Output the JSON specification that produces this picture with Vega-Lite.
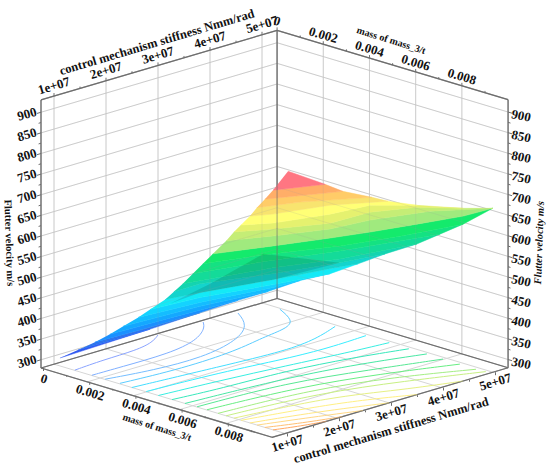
{"$schema":"https://vega.github.io/schema/vega-lite/v6.json","width":550,"height":469,"padding":0,"autosize":{"type":"fit","contains":"padding"},"background":"white","config":{"view":{"stroke":null}},
"datasets":{
"surface":[
{"level":300,"seq":1,"mass":0.00028,"stiffness":0.99e7},
{"level":330,"seq":1,"mass":0.00099,"stiffness":1.02e7},{"level":330,"seq":2,"mass":0.00102,"stiffness":1.82e7},{"level":330,"seq":3,"mass":0.00101,"stiffness":2.4e7},
{"level":360,"seq":1,"mass":0.00168,"stiffness":1.04e7},{"level":360,"seq":2,"mass":0.00177,"stiffness":2.06e7},{"level":360,"seq":3,"mass":0.00179,"stiffness":3.01e7},
{"level":390,"seq":1,"mass":0.00233,"stiffness":1.04e7},{"level":390,"seq":2,"mass":0.00245,"stiffness":2.33e7},{"level":390,"seq":3,"mass":0.0026,"stiffness":3.38e7},
{"level":420,"seq":1,"mass":0.00293,"stiffness":1.03e7},{"level":420,"seq":2,"mass":0.00313,"stiffness":2.42e7},{"level":420,"seq":3,"mass":0.0035,"stiffness":3.56e7},
{"level":450,"seq":1,"mass":0.00351,"stiffness":1.06e7},{"level":450,"seq":2,"mass":0.00374,"stiffness":2.14e7},{"level":450,"seq":3,"mass":0.00422,"stiffness":3.34e7},{"level":450,"seq":4,"mass":0.00429,"stiffness":3.83e7},
{"level":480,"seq":1,"mass":0.00409,"stiffness":1.03e7},{"level":480,"seq":2,"mass":0.00429,"stiffness":1.9e7},{"level":480,"seq":3,"mass":0.00491,"stiffness":3.03e7},{"level":480,"seq":4,"mass":0.00534,"stiffness":3.94e7},
{"level":510,"seq":1,"mass":0.00459,"stiffness":1.1e7},{"level":510,"seq":2,"mass":0.00483,"stiffness":1.66e7},{"level":510,"seq":3,"mass":0.00545,"stiffness":2.79e7},{"level":510,"seq":4,"mass":0.00595,"stiffness":3.86e7},{"level":510,"seq":5,"mass":0.00612,"stiffness":4.13e7},
{"level":540,"seq":1,"mass":0.0051,"stiffness":1.04e7},{"level":540,"seq":2,"mass":0.00508,"stiffness":1.55e7},{"level":540,"seq":3,"mass":0.00592,"stiffness":2.58e7},{"level":540,"seq":4,"mass":0.00656,"stiffness":3.58e7},{"level":540,"seq":5,"mass":0.00688,"stiffness":4.31e7},
{"level":570,"seq":1,"mass":0.00562,"stiffness":0.98e7},{"level":570,"seq":2,"mass":0.00639,"stiffness":2.37e7},{"level":570,"seq":3,"mass":0.00718,"stiffness":3.31e7},{"level":570,"seq":4,"mass":0.00774,"stiffness":4.54e7},
{"level":600,"seq":1,"mass":0.00601,"stiffness":1e7},{"level":600,"seq":2,"mass":0.00664,"stiffness":2.07e7},{"level":600,"seq":3,"mass":0.0075,"stiffness":3.17e7},{"level":600,"seq":4,"mass":0.00842,"stiffness":4.68e7},
{"level":630,"seq":1,"mass":0.0064,"stiffness":1.02e7},{"level":630,"seq":2,"mass":0.00704,"stiffness":1.89e7},{"level":630,"seq":3,"mass":0.00805,"stiffness":2.93e7},{"level":630,"seq":4,"mass":0.00861,"stiffness":3.83e7},{"level":630,"seq":5,"mass":0.00909,"stiffness":4.83e7},
{"level":660,"seq":1,"mass":0.00679,"stiffness":1.04e7},{"level":660,"seq":2,"mass":0.0075,"stiffness":1.88e7},{"level":660,"seq":3,"mass":0.00815,"stiffness":2.69e7},{"level":660,"seq":4,"mass":0.00857,"stiffness":3.27e7},{"level":660,"seq":5,"mass":0.009,"stiffness":3.98e7},{"level":660,"seq":6,"mass":0.00941,"stiffness":4.69e7},{"level":660,"seq":7,"mass":0.00947,"stiffness":5.23e7},
{"level":690,"seq":1,"mass":0.00703,"stiffness":1.19e7},{"level":690,"seq":2,"mass":0.00768,"stiffness":1.8e7},{"level":690,"seq":3,"mass":0.00839,"stiffness":2.58e7},{"level":690,"seq":4,"mass":0.0086,"stiffness":3.26e7},{"level":690,"seq":5,"mass":0.00924,"stiffness":4.13e7},{"level":690,"seq":6,"mass":0.01038,"stiffness":4.83e7},
{"level":720,"seq":1,"mass":0.00745,"stiffness":1.15e7},{"level":720,"seq":2,"mass":0.00807,"stiffness":1.63e7},{"level":720,"seq":3,"mass":0.00887,"stiffness":2.37e7},{"level":720,"seq":4,"mass":0.00892,"stiffness":3.11e7},{"level":720,"seq":5,"mass":0.00957,"stiffness":3.73e7},{"level":720,"seq":6,"mass":0.01064,"stiffness":4.14e7},
{"level":750,"seq":1,"mass":0.008,"stiffness":1.04e7},{"level":750,"seq":2,"mass":0.00854,"stiffness":1.42e7},{"level":750,"seq":3,"mass":0.00911,"stiffness":2.26e7},{"level":750,"seq":4,"mass":0.00932,"stiffness":2.94e7},{"level":750,"seq":5,"mass":0.01034,"stiffness":3.39e7},
{"level":780,"seq":1,"mass":0.00844,"stiffness":1.02e7},{"level":780,"seq":2,"mass":0.00879,"stiffness":1.31e7},{"level":780,"seq":3,"mass":0.00936,"stiffness":2.15e7},{"level":780,"seq":4,"mass":0.01032,"stiffness":2.84e7},
{"level":810,"seq":1,"mass":0.00887,"stiffness":0.96e7},{"level":810,"seq":2,"mass":0.0094,"stiffness":1.56e7},{"level":810,"seq":3,"mass":0.01059,"stiffness":2.41e7},
{"level":840,"seq":1,"mass":0.00933,"stiffness":0.91e7},{"level":840,"seq":2,"mass":0.01043,"stiffness":1.92e7},
{"level":870,"seq":1,"mass":0.00975,"stiffness":0.88e7},{"level":870,"seq":2,"mass":0.01044,"stiffness":1.575e7},
{"level":900,"seq":1,"mass":0.00959,"stiffness":1.24e7}],
"fold":[{"seq":1,"mass":0.00499,"stiffness":1.02e7,"velocity":510},{"seq":2,"mass":0.0062,"stiffness":1.25e7,"velocity":570},{"seq":3,"mass":0.00697,"stiffness":1.93e7,"velocity":630},{"seq":4,"mass":0.00656,"stiffness":3.58e7,"velocity":540},{"seq":5,"mass":0.00545,"stiffness":2.79e7,"velocity":510},{"seq":6,"mass":0.00483,"stiffness":1.66e7,"velocity":510}],
"contours":[
{"level":330,"seq":1,"mass":0.00088,"stiffness":1.01e7},{"level":330,"seq":2,"mass":0.00075,"stiffness":1.61e7},{"level":330,"seq":3,"mass":0.00075,"stiffness":2.26e7},{"level":330,"seq":4,"mass":0.00051,"stiffness":2.67e7},{"level":330,"seq":5,"mass":0.00011,"stiffness":2.95e7},
{"level":360,"seq":1,"mass":0.00162,"stiffness":1.01e7},{"level":360,"seq":2,"mass":0.00164,"stiffness":1.54e7},{"level":360,"seq":3,"mass":0.00169,"stiffness":2.48e7},{"level":360,"seq":4,"mass":0.00132,"stiffness":3.16e7},{"level":360,"seq":5,"mass":0.00061,"stiffness":3.63e7},{"level":360,"seq":6,"mass":0.00013,"stiffness":3.81e7},
{"level":390,"seq":1,"mass":0.00219,"stiffness":1.01e7},{"level":390,"seq":2,"mass":0.00257,"stiffness":1.76e7},{"level":390,"seq":3,"mass":0.0027,"stiffness":2.67e7},{"level":390,"seq":4,"mass":0.00219,"stiffness":3.55e7},{"level":390,"seq":5,"mass":0.00132,"stiffness":4.14e7},{"level":390,"seq":6,"mass":0.00022,"stiffness":4.44e7},
{"level":420,"seq":1,"mass":0.00281,"stiffness":1.02e7},{"level":420,"seq":2,"mass":0.00307,"stiffness":2.12e7},{"level":420,"seq":3,"mass":0.00292,"stiffness":3.22e7},{"level":420,"seq":4,"mass":0.00253,"stiffness":3.89e7},{"level":420,"seq":5,"mass":0.00239,"stiffness":4.42e7},{"level":420,"seq":6,"mass":0.00193,"stiffness":4.74e7},{"level":420,"seq":7,"mass":0.00084,"stiffness":4.97e7},
{"level":450,"seq":1,"mass":0.00337,"stiffness":1e7},{"level":450,"seq":2,"mass":0.00373,"stiffness":2.54e7},{"level":450,"seq":3,"mass":0.004,"stiffness":3.7e7},{"level":450,"seq":4,"mass":0.00377,"stiffness":4.38e7},{"level":450,"seq":5,"mass":0.00328,"stiffness":4.95e7},
{"level":480,"seq":1,"mass":0.00397,"stiffness":1.01e7},{"level":480,"seq":2,"mass":0.00417,"stiffness":2.34e7},{"level":480,"seq":3,"mass":0.00459,"stiffness":3.44e7},{"level":480,"seq":4,"mass":0.00471,"stiffness":4.22e7},{"level":480,"seq":5,"mass":0.00461,"stiffness":4.95e7},
{"level":510,"seq":1,"mass":0.00452,"stiffness":1e7},{"level":510,"seq":2,"mass":0.00476,"stiffness":2.08e7},{"level":510,"seq":3,"mass":0.0051,"stiffness":3.21e7},{"level":510,"seq":4,"mass":0.00545,"stiffness":4.22e7},{"level":510,"seq":5,"mass":0.00562,"stiffness":4.95e7},
{"level":540,"seq":1,"mass":0.00511,"stiffness":1e7},{"level":540,"seq":2,"mass":0.00535,"stiffness":1.82e7},{"level":540,"seq":3,"mass":0.00547,"stiffness":3.05e7},{"level":540,"seq":4,"mass":0.00594,"stiffness":4.11e7},{"level":540,"seq":5,"mass":0.00649,"stiffness":4.94e7},
{"level":570,"seq":1,"mass":0.00567,"stiffness":1e7},{"level":570,"seq":2,"mass":0.00599,"stiffness":2.82e7},{"level":570,"seq":3,"mass":0.00654,"stiffness":3.98e7},{"level":570,"seq":4,"mass":0.00725,"stiffness":4.95e7},
{"level":600,"seq":1,"mass":0.00617,"stiffness":1.01e7},{"level":600,"seq":2,"mass":0.00635,"stiffness":2.66e7},{"level":600,"seq":3,"mass":0.00719,"stiffness":3.88e7},{"level":600,"seq":4,"mass":0.00797,"stiffness":4.94e7},
{"level":630,"seq":1,"mass":0.0066,"stiffness":1.01e7},{"level":630,"seq":2,"mass":0.00693,"stiffness":2.65e7},{"level":630,"seq":3,"mass":0.00771,"stiffness":3.85e7},{"level":630,"seq":4,"mass":0.0087,"stiffness":4.94e7},
{"level":660,"seq":1,"mass":0.0071,"stiffness":1e7},{"level":660,"seq":2,"mass":0.00737,"stiffness":2.65e7},{"level":660,"seq":3,"mass":0.00825,"stiffness":3.89e7},{"level":660,"seq":4,"mass":0.00942,"stiffness":4.93e7},
{"level":690,"seq":1,"mass":0.00745,"stiffness":1e7},{"level":690,"seq":2,"mass":0.0078,"stiffness":2.65e7},{"level":690,"seq":3,"mass":0.00876,"stiffness":3.86e7},{"level":690,"seq":4,"mass":0.0098,"stiffness":4.95e7},
{"level":720,"seq":1,"mass":0.00779,"stiffness":1e7},{"level":720,"seq":2,"mass":0.00831,"stiffness":2.62e7},{"level":720,"seq":3,"mass":0.00931,"stiffness":3.52e7},{"level":720,"seq":4,"mass":0.01,"stiffness":4.42e7},
{"level":750,"seq":1,"mass":0.0081,"stiffness":1e7},{"level":750,"seq":2,"mass":0.0089,"stiffness":2.55e7},{"level":750,"seq":3,"mass":0.01,"stiffness":3.54e7},
{"level":780,"seq":1,"mass":0.00848,"stiffness":1e7},{"level":780,"seq":2,"mass":0.0091,"stiffness":2e7},{"level":780,"seq":3,"mass":0.01,"stiffness":3e7},
{"level":810,"seq":1,"mass":0.00879,"stiffness":1e7},{"level":810,"seq":2,"mass":0.0094,"stiffness":1.8e7},{"level":810,"seq":3,"mass":0.01,"stiffness":2.5e7},
{"level":840,"seq":1,"mass":0.00913,"stiffness":1e7},{"level":840,"seq":2,"mass":0.0096,"stiffness":1.5e7},{"level":840,"seq":3,"mass":0.01,"stiffness":2.1e7},
{"level":870,"seq":1,"mass":0.00948,"stiffness":1e7},{"level":870,"seq":2,"mass":0.0098,"stiffness":1.4e7},{"level":870,"seq":3,"mass":0.01,"stiffness":1.8e7}],
"grid":[
{"mass":0,"stiffness":7.5e6,"stiffness2":5.29e7,"velocity":300},{"mass":0,"stiffness":7.5e6,"stiffness2":5.29e7,"velocity":350},{"mass":0,"stiffness":7.5e6,"stiffness2":5.29e7,"velocity":400},{"mass":0,"stiffness":7.5e6,"stiffness2":5.29e7,"velocity":450},{"mass":0,"stiffness":7.5e6,"stiffness2":5.29e7,"velocity":500},{"mass":0,"stiffness":7.5e6,"stiffness2":5.29e7,"velocity":550},{"mass":0,"stiffness":7.5e6,"stiffness2":5.29e7,"velocity":600},{"mass":0,"stiffness":7.5e6,"stiffness2":5.29e7,"velocity":650},{"mass":0,"stiffness":7.5e6,"stiffness2":5.29e7,"velocity":700},{"mass":0,"stiffness":7.5e6,"stiffness2":5.29e7,"velocity":750},{"mass":0,"stiffness":7.5e6,"stiffness2":5.29e7,"velocity":800},{"mass":0,"stiffness":7.5e6,"stiffness2":5.29e7,"velocity":850},{"mass":0,"stiffness":7.5e6,"stiffness2":5.29e7,"velocity":900},
{"mass":0,"mass2":0.01,"stiffness":5.29e7,"velocity":300},{"mass":0,"mass2":0.01,"stiffness":5.29e7,"velocity":350},{"mass":0,"mass2":0.01,"stiffness":5.29e7,"velocity":400},{"mass":0,"mass2":0.01,"stiffness":5.29e7,"velocity":450},{"mass":0,"mass2":0.01,"stiffness":5.29e7,"velocity":500},{"mass":0,"mass2":0.01,"stiffness":5.29e7,"velocity":550},{"mass":0,"mass2":0.01,"stiffness":5.29e7,"velocity":600},{"mass":0,"mass2":0.01,"stiffness":5.29e7,"velocity":650},{"mass":0,"mass2":0.01,"stiffness":5.29e7,"velocity":700},{"mass":0,"mass2":0.01,"stiffness":5.29e7,"velocity":750},{"mass":0,"mass2":0.01,"stiffness":5.29e7,"velocity":800},{"mass":0,"mass2":0.01,"stiffness":5.29e7,"velocity":850},{"mass":0,"mass2":0.01,"stiffness":5.29e7,"velocity":900},
{"mass":0,"stiffness":1e7,"velocity":280,"velocity2":930},{"mass":0,"stiffness":2e7,"velocity":280,"velocity2":930},{"mass":0,"stiffness":3e7,"velocity":280,"velocity2":930},{"mass":0,"stiffness":4e7,"velocity":280,"velocity2":930},{"mass":0,"stiffness":5e7,"velocity":280,"velocity2":930},
{"mass":0.002,"stiffness":5.29e7,"velocity":280,"velocity2":930},{"mass":0.004,"stiffness":5.29e7,"velocity":280,"velocity2":930},{"mass":0.006,"stiffness":5.29e7,"velocity":280,"velocity2":930},{"mass":0.008,"stiffness":5.29e7,"velocity":280,"velocity2":930},
{"mass":0,"mass2":0.01,"stiffness":1e7,"velocity":280},{"mass":0,"mass2":0.01,"stiffness":2e7,"velocity":280},{"mass":0,"mass2":0.01,"stiffness":3e7,"velocity":280},{"mass":0,"mass2":0.01,"stiffness":4e7,"velocity":280},{"mass":0,"mass2":0.01,"stiffness":5e7,"velocity":280},
{"mass":0.002,"stiffness":7.5e6,"stiffness2":5.29e7,"velocity":280},{"mass":0.004,"stiffness":7.5e6,"stiffness2":5.29e7,"velocity":280},{"mass":0.006,"stiffness":7.5e6,"stiffness2":5.29e7,"velocity":280},{"mass":0.008,"stiffness":7.5e6,"stiffness2":5.29e7,"velocity":280}],
"frame":[
{"mass":0,"stiffness":7.5e6,"velocity":280,"velocity2":930},{"mass":0,"stiffness":5.29e7,"velocity":280,"velocity2":930},{"mass":0.01,"stiffness":5.29e7,"velocity":280,"velocity2":930},
{"mass":0,"stiffness":7.5e6,"stiffness2":5.29e7,"velocity":930},{"mass":0,"mass2":0.01,"stiffness":5.29e7,"velocity":930},
{"mass":0,"stiffness":7.5e6,"stiffness2":5.29e7,"velocity":280},{"mass":0,"mass2":0.01,"stiffness":5.29e7,"velocity":280},{"mass":0.01,"stiffness":7.5e6,"stiffness2":5.29e7,"velocity":280},{"mass":0,"mass2":0.01,"stiffness":7.5e6,"velocity":280}],
"ticks":[
{"side":"st","stiffness":1e7,"label":"1e+07"},{"side":"st","stiffness":1.5e7},{"side":"st","stiffness":2e7,"label":"2e+07"},{"side":"st","stiffness":2.5e7},{"side":"st","stiffness":3e7,"label":"3e+07"},{"side":"st","stiffness":3.5e7},{"side":"st","stiffness":4e7,"label":"4e+07"},{"side":"st","stiffness":4.5e7},{"side":"st","stiffness":5e7,"label":"5e+07"},
{"side":"sb","stiffness":1e7,"label":"1e+07"},{"side":"sb","stiffness":1.5e7},{"side":"sb","stiffness":2e7,"label":"2e+07"},{"side":"sb","stiffness":2.5e7},{"side":"sb","stiffness":3e7,"label":"3e+07"},{"side":"sb","stiffness":3.5e7},{"side":"sb","stiffness":4e7,"label":"4e+07"},{"side":"sb","stiffness":4.5e7},{"side":"sb","stiffness":5e7,"label":"5e+07"},
{"side":"mt","mass":0,"label":"0"},{"side":"mt","mass":0.001},{"side":"mt","mass":0.002,"label":"0.002"},{"side":"mt","mass":0.003},{"side":"mt","mass":0.004,"label":"0.004"},{"side":"mt","mass":0.005},{"side":"mt","mass":0.006,"label":"0.006"},{"side":"mt","mass":0.007},{"side":"mt","mass":0.008,"label":"0.008"},{"side":"mt","mass":0.009},
{"side":"mb","mass":0,"label":"0"},{"side":"mb","mass":0.001},{"side":"mb","mass":0.002,"label":"0.002"},{"side":"mb","mass":0.003},{"side":"mb","mass":0.004,"label":"0.004"},{"side":"mb","mass":0.005},{"side":"mb","mass":0.006,"label":"0.006"},{"side":"mb","mass":0.007},{"side":"mb","mass":0.008,"label":"0.008"},{"side":"mb","mass":0.009},
{"side":"zl","velocity":300,"label":"300"},{"side":"zl","velocity":325},{"side":"zl","velocity":350,"label":"350"},{"side":"zl","velocity":375},{"side":"zl","velocity":400,"label":"400"},{"side":"zl","velocity":425},{"side":"zl","velocity":450,"label":"450"},{"side":"zl","velocity":475},{"side":"zl","velocity":500,"label":"500"},{"side":"zl","velocity":525},{"side":"zl","velocity":550,"label":"550"},{"side":"zl","velocity":575},{"side":"zl","velocity":600,"label":"600"},{"side":"zl","velocity":625},{"side":"zl","velocity":650,"label":"650"},{"side":"zl","velocity":675},{"side":"zl","velocity":700,"label":"700"},{"side":"zl","velocity":725},{"side":"zl","velocity":750,"label":"750"},{"side":"zl","velocity":775},{"side":"zl","velocity":800,"label":"800"},{"side":"zl","velocity":825},{"side":"zl","velocity":850,"label":"850"},{"side":"zl","velocity":875},{"side":"zl","velocity":900,"label":"900"},
{"side":"zr","velocity":300,"label":"300"},{"side":"zr","velocity":325},{"side":"zr","velocity":350,"label":"350"},{"side":"zr","velocity":375},{"side":"zr","velocity":400,"label":"400"},{"side":"zr","velocity":425},{"side":"zr","velocity":450,"label":"450"},{"side":"zr","velocity":475},{"side":"zr","velocity":500,"label":"500"},{"side":"zr","velocity":525},{"side":"zr","velocity":550,"label":"550"},{"side":"zr","velocity":575},{"side":"zr","velocity":600,"label":"600"},{"side":"zr","velocity":625},{"side":"zr","velocity":650,"label":"650"},{"side":"zr","velocity":675},{"side":"zr","velocity":700,"label":"700"},{"side":"zr","velocity":725},{"side":"zr","velocity":750,"label":"750"},{"side":"zr","velocity":775},{"side":"zr","velocity":800,"label":"800"},{"side":"zr","velocity":825},{"side":"zr","velocity":850,"label":"850"},{"side":"zr","velocity":875},{"side":"zr","velocity":900,"label":"900"}],
"titles":[
{"side":"st","label":"control mechanism stiffness Nmm/rad","mass":0,"stiffness":2.98e7,"velocity":987},
{"side":"sb","label":"control mechanism stiffness Nmm/rad","mass":0.01,"stiffness":3.04e7,"velocity":212},
{"side":"mt","label":"mass of mass_3/t","mass":0.00494,"stiffness":5.29e7,"velocity":988},
{"side":"mb","label":"mass of mass_3/t","mass":0.00502,"stiffness":7.5e6,"velocity":220},
{"side":"vl","label":"Flutter velocity m/s","mass":-0.00139,"stiffness":7.5e6,"velocity":560},
{"side":"vr","label":"Flutter velocity m/s","mass":0.01136,"stiffness":5.29e7,"velocity":602}]
},
"encoding":{
"x":{"field":"px","type":"quantitative","scale":{"domain":[0,550],"nice":false,"zero":false},"axis":null},
"y":{"field":"py","type":"quantitative","scale":{"domain":[469,0],"nice":false,"zero":false},"axis":null}},
"layer":[
{"data":{"name":"grid"},"mark":{"type":"rule","color":"#d6d6d6","strokeWidth":1},
"transform":[
{"calculate":"41+(datum.stiffness/1e7-0.75)*52+datum.mass*23100","as":"px"},
{"calculate":"368+0.3*datum.mass*23100-0.2945*(datum.stiffness/1e7-0.75)*52-(datum.velocity-280)*0.4125","as":"py"},
{"calculate":"isValid(datum.mass2)?datum.mass2:datum.mass","as":"m2"},{"calculate":"isValid(datum.stiffness2)?datum.stiffness2:datum.stiffness","as":"s2"},{"calculate":"isValid(datum.velocity2)?datum.velocity2:datum.velocity","as":"v2"},
{"calculate":"41+(datum.s2/1e7-0.75)*52+datum.m2*23100","as":"px2"},
{"calculate":"368+0.3*datum.m2*23100-0.2945*(datum.s2/1e7-0.75)*52-(datum.v2-280)*0.4125","as":"py2"}],
"encoding":{"x2":{"field":"px2"},"y2":{"field":"py2"}}},
{"data":{"name":"frame"},"mark":{"type":"rule","color":"#6e6e6e","strokeWidth":1.2},
"transform":[
{"calculate":"41+(datum.stiffness/1e7-0.75)*52+datum.mass*23100","as":"px"},
{"calculate":"368+0.3*datum.mass*23100-0.2945*(datum.stiffness/1e7-0.75)*52-(datum.velocity-280)*0.4125","as":"py"},
{"calculate":"isValid(datum.mass2)?datum.mass2:datum.mass","as":"m2"},{"calculate":"isValid(datum.stiffness2)?datum.stiffness2:datum.stiffness","as":"s2"},{"calculate":"isValid(datum.velocity2)?datum.velocity2:datum.velocity","as":"v2"},
{"calculate":"41+(datum.s2/1e7-0.75)*52+datum.m2*23100","as":"px2"},
{"calculate":"368+0.3*datum.m2*23100-0.2945*(datum.s2/1e7-0.75)*52-(datum.v2-280)*0.4125","as":"py2"}],
"encoding":{"x2":{"field":"px2"},"y2":{"field":"py2"}}},
{"data":{"name":"ticks"},"mark":{"type":"rule","color":"#6e6e6e","strokeWidth":1},
"transform":[
{"calculate":"{st:[0,null,930,0,-3,0],mt:[null,5.29e7,930,0,-3,0],sb:[0.01,null,280,0,3,2.5],mb:[null,7.5e6,280,0,3,2.5],zl:[0,7.5e6,null,-4,1.2,0],zr:[0.01,5.29e7,null,4,1.2,0]}[datum.side]","as":"b"},
{"calculate":"isValid(datum.mass)?datum.mass:datum.b[0]","as":"m"},{"calculate":"isValid(datum.stiffness)?datum.stiffness:datum.b[1]","as":"s"},{"calculate":"isValid(datum.velocity)?datum.velocity:datum.b[2]","as":"v"},
{"calculate":"41+(datum.s/1e7-0.75)*52+datum.m*23100+datum.b[5]","as":"px"},
{"calculate":"368+0.3*datum.m*23100-0.2945*(datum.s/1e7-0.75)*52-(datum.v-280)*0.4125","as":"py"},
{"calculate":"datum.px+datum.b[3]*(isValid(datum.label)?1:0.6)","as":"px2"},
{"calculate":"datum.py+datum.b[4]*(isValid(datum.label)?1:0.6)","as":"py2"}],
"encoding":{"x2":{"field":"px2"},"y2":{"field":"py2"}}},
{"data":{"name":"contours"},"mark":{"type":"line","strokeWidth":1,"interpolate":"basis"},
"transform":[
{"calculate":"41+(datum.stiffness/1e7-0.75)*52+datum.mass*23100","as":"px"},
{"calculate":"368+0.3*datum.mass*23100-0.2945*(datum.stiffness/1e7-0.75)*52","as":"py"}],
"encoding":{"order":{"field":"seq","type":"quantitative"},"detail":{"field":"level","type":"ordinal"},
"color":{"field":"level","type":"ordinal","legend":null,"scale":{"domain":[330,360,390,420,450,480,510,540,570,600,630,660,690,720,750,780,810,840,870],"range":["#8aa4ff","#80b0ff","#76beff","#5ccdff","#44deff","#38eeff","#38eee2","#38e8bc","#48e8a4","#58e894","#68ee84","#a4ee84","#c8f084","#e6f084","#fff084","#ffe884","#ffd884","#ffc074","#ffa864"]}}}},
{"data":{"name":"surface"},"mark":{"type":"line","filled":true,"strokeWidth":0.5},
"transform":[
{"calculate":"[0,1]","as":"edge"},{"flatten":["edge"]},
{"calculate":"datum.edge==0?datum.level:datum.level-30","as":"band"},
{"filter":"datum.band>=300&&datum.band<900"},
{"calculate":"datum.edge==0?datum.seq:100-datum.seq","as":"ord"},
{"calculate":"41+(datum.stiffness/1e7-0.75)*52+datum.mass*23100","as":"px"},
{"calculate":"368+0.3*datum.mass*23100-0.2945*(datum.stiffness/1e7-0.75)*52-(datum.level-280)*0.4125","as":"py"}],
"encoding":{"order":{"field":"ord","type":"quantitative"},"detail":{"field":"band","type":"ordinal"},
"fill":{"field":"band","type":"ordinal","legend":null,"scale":{"domain":[300,330,360,390,420,450,480,510,540,570,600,630,660,690,720,750,780,810,840,870],"range":["#3058f0","#2470f5","#1a90ff","#14a8ff","#14bdff","#14d3ff","#14eaf6","#14d4cd","#14d4b0","#14db99","#14e282","#14ea6c","#a0ea7e","#c5ed76","#e5f16f","#ffff76","#f8e46f","#ffcc68","#ffae68","#ff7682"]}},
"stroke":{"field":"band","type":"ordinal","legend":null,"scale":{"domain":[300,330,360,390,420,450,480,510,540,570,600,630,660,690,720,750,780,810,840,870],"range":["#3058f0","#2470f5","#1a90ff","#14a8ff","#14bdff","#14d3ff","#14eaf6","#14d4cd","#14d4b0","#14db99","#14e282","#14ea6c","#a0ea7e","#c5ed76","#e5f16f","#ffff76","#f8e46f","#ffcc68","#ffae68","#ff7682"]}}}},
{"data":{"name":"fold"},"mark":{"type":"line","filled":true,"strokeWidth":0,"fill":"#000000","fillOpacity":0.12},
"transform":[
{"calculate":"41+(datum.stiffness/1e7-0.75)*52+datum.mass*23100","as":"px"},
{"calculate":"368+0.3*datum.mass*23100-0.2945*(datum.stiffness/1e7-0.75)*52-(datum.velocity-280)*0.4125","as":"py"}],
"encoding":{"order":{"field":"seq","type":"quantitative"}}},
{"data":{"name":"grid"},"mark":{"type":"rule","color":"#9a9a9a","strokeWidth":1,"opacity":0.16},
"transform":[
{"filter":"datum.velocity>280||isValid(datum.velocity2)"},
{"calculate":"41+(datum.stiffness/1e7-0.75)*52+datum.mass*23100","as":"px"},
{"calculate":"368+0.3*datum.mass*23100-0.2945*(datum.stiffness/1e7-0.75)*52-(datum.velocity-280)*0.4125","as":"py"},
{"calculate":"isValid(datum.mass2)?datum.mass2:datum.mass","as":"m2"},{"calculate":"isValid(datum.stiffness2)?datum.stiffness2:datum.stiffness","as":"s2"},{"calculate":"isValid(datum.velocity2)?datum.velocity2:datum.velocity","as":"v2"},
{"calculate":"41+(datum.s2/1e7-0.75)*52+datum.m2*23100","as":"px2"},
{"calculate":"368+0.3*datum.m2*23100-0.2945*(datum.s2/1e7-0.75)*52-(datum.v2-280)*0.4125","as":"py2"}],
"encoding":{"x2":{"field":"px2"},"y2":{"field":"py2"}}},
{"data":{"name":"frame"},"mark":{"type":"rule","color":"#6e6e6e","strokeWidth":1.2,"opacity":0.55},
"transform":[
{"calculate":"41+(datum.stiffness/1e7-0.75)*52+datum.mass*23100","as":"px"},
{"calculate":"368+0.3*datum.mass*23100-0.2945*(datum.stiffness/1e7-0.75)*52-(datum.velocity-280)*0.4125","as":"py"},
{"calculate":"isValid(datum.mass2)?datum.mass2:datum.mass","as":"m2"},{"calculate":"isValid(datum.stiffness2)?datum.stiffness2:datum.stiffness","as":"s2"},{"calculate":"isValid(datum.velocity2)?datum.velocity2:datum.velocity","as":"v2"},
{"calculate":"41+(datum.s2/1e7-0.75)*52+datum.m2*23100","as":"px2"},
{"calculate":"368+0.3*datum.m2*23100-0.2945*(datum.s2/1e7-0.75)*52-(datum.v2-280)*0.4125","as":"py2"}],
"encoding":{"x2":{"field":"px2"},"y2":{"field":"py2"}}},
{"data":{"name":"ticks"},"mark":{"type":"text","font":"Liberation Serif","fontWeight":"bold","fontSize":13,"align":"center","baseline":"middle","color":"#111111"},
"transform":[{"filter":"isValid(datum.label)"},
{"calculate":"{st:[0,null,930,-16.5,0,-10],mt:[null,5.29e7,930,16.5,0,-9],sb:[0.01,null,280,-16.5,2.5,10],mb:[null,7.5e6,280,16.5,3,11],zl:[0,7.5e6,null,-16,-14,2],zr:[0.01,5.29e7,null,12,13,4]}[datum.side]","as":"b"},
{"calculate":"isValid(datum.mass)?datum.mass:datum.b[0]","as":"m"},{"calculate":"isValid(datum.stiffness)?datum.stiffness:datum.b[1]","as":"s"},{"calculate":"isValid(datum.velocity)?datum.velocity:datum.b[2]","as":"v"},
{"calculate":"41+(datum.s/1e7-0.75)*52+datum.m*23100+datum.b[4]","as":"px"},
{"calculate":"368+0.3*datum.m*23100-0.2945*(datum.s/1e7-0.75)*52-(datum.v-280)*0.4125+datum.b[5]","as":"py"},
{"calculate":"datum.b[3]","as":"ang"}],
"encoding":{"text":{"field":"label"},"angle":{"field":"ang","type":"quantitative","scale":null}}},
{"data":{"name":"titles"},"mark":{"type":"text","font":"Liberation Serif","fontWeight":"bold","align":"center","baseline":"middle","color":"#111111"},
"transform":[{"filter":"datum.side!='vr'"},
{"calculate":"{st:[-16.7,12.5],sb:[-16.7,12.5],mt:[17.5,10],mb:[17.5,10],vl:[88,10.5]}[datum.side]","as":"b"},
{"calculate":"41+(datum.stiffness/1e7-0.75)*52+datum.mass*23100","as":"px"},
{"calculate":"368+0.3*datum.mass*23100-0.2945*(datum.stiffness/1e7-0.75)*52-(datum.velocity-280)*0.4125","as":"py"},
{"calculate":"datum.b[0]","as":"ang"},{"calculate":"datum.b[1]","as":"fs"}],
"encoding":{"text":{"field":"label"},"angle":{"field":"ang","type":"quantitative","scale":null},"size":{"field":"fs","type":"quantitative","scale":null}}},
{"data":{"name":"titles"},"mark":{"type":"text","font":"Liberation Serif","fontWeight":"bold","fontStyle":"italic","fontSize":10.5,"angle":272,"align":"center","baseline":"middle","color":"#111111"},
"transform":[{"filter":"datum.side=='vr'"},
{"calculate":"41+(datum.stiffness/1e7-0.75)*52+datum.mass*23100","as":"px"},
{"calculate":"368+0.3*datum.mass*23100-0.2945*(datum.stiffness/1e7-0.75)*52-(datum.velocity-280)*0.4125-1.7","as":"py"}],
"encoding":{"text":{"field":"label"}}}
]}
